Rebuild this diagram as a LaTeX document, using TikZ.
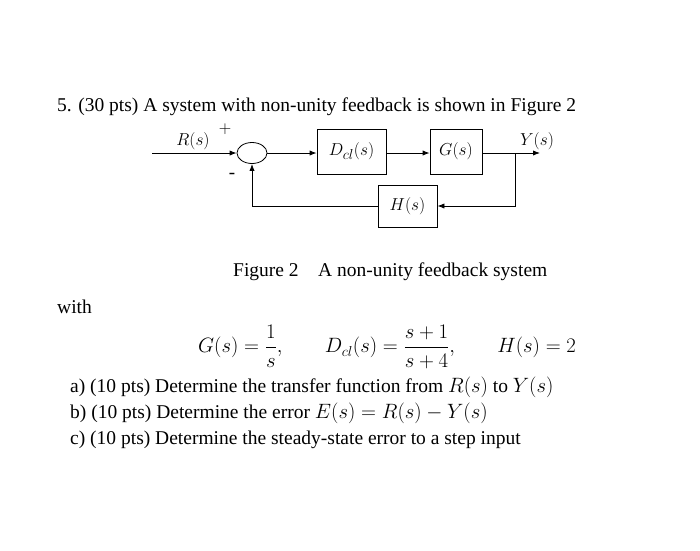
\documentclass[tikz,border=0pt]{standalone}
\usepackage{amsmath}
\usepackage{fontspec}
\setmainfont{Liberation Serif}
\usetikzlibrary{arrows.meta,shapes.geometric}
\begin{document}
\begin{tikzpicture}[x=1pt,y=-1pt,
  blk/.style={draw, thick, minimum height=45pt, inner sep=0pt},
  sig/.style={thick, -{Latex[length=7pt]}},
  lbl/.style={inner sep=0pt, font=\fontsize{19}{22}\selectfont},
  txt/.style={anchor=west, inner sep=0pt, font=\fontsize{19.5}{23}\selectfont}]
\useasboundingbox (0,0) rectangle (700,550);
\node[txt] (title) at (57,107) {5. (30 pts) A system with non-unity feedback is shown in Figure 2};
% block diagram
\coordinate (in) at (152,153);
\node[draw, thick, ellipse, minimum width=30pt, minimum height=21pt, inner sep=0pt] (sum) at (252,153) {};
\node[blk, minimum width=69pt] (D) at (351.5,151.5) {\fontsize{19}{22}\selectfont $D_{cl}(s)$};
\node[blk, minimum width=52pt] (G) at (456,151.5) {\fontsize{19}{22}\selectfont $G(s)$};
\node[blk, minimum width=59pt, minimum height=42pt] (H) at (407.5,206) {\fontsize{19}{22}\selectfont $H(s)$};
\coordinate (br) at (515,153);
\coordinate (out) at (540,153);
\draw[sig] (in) -- (sum);
\draw[sig] (sum) -- (D.west |- sum);
\draw[sig] (D.east |- sum) -- (G.west |- sum);
\draw[sig] (G.east |- sum) -- (out);
\draw[sig] (br) |- (H.east);
\draw[sig] (H.west) -| (sum.south);
\node[lbl] (R) at (193,141) {$R(s)$};
\node[lbl] (plus) at (225,129) {$+$};
\node[lbl] (minus) at (232,176) {-};
\node[lbl] (Y) at (537,141) {$Y(s)$};
% caption and text
\node[txt] (cap) at (233,272) {Figure 2\quad A non-unity feedback system};
\node[txt] (with) at (57,307) {with};
\node[txt] (eq) at (198,347) {$G(s)=\dfrac{1}{s},\qquad D_{cl}(s)=\dfrac{s+1}{s+4},\qquad H(s)=2$};
\node[txt] (a) at (70,387) {a) (10 pts) Determine the transfer function from $R(s)$ to $Y(s)$};
\node[txt] (b) at (70,413) {b) (10 pts) Determine the error $E(s)=R(s)-Y(s)$};
\node[txt] (c) at (70,440) {c) (10 pts) Determine the steady-state error to a step input};
\end{tikzpicture}
\end{document}
